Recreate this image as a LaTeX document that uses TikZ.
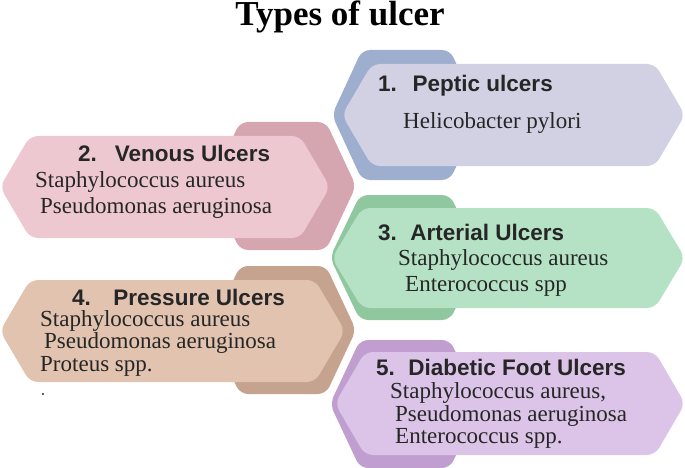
\documentclass[tikz,border=0pt]{standalone}
\usepackage{fontspec}
\setmainfont{Liberation Serif}
\newfontfamily\hd{Liberation Sans}
\begin{document}
\begin{tikzpicture}[x=1pt,y=-1pt,
  hdr/.style={anchor=west,inner sep=0pt,font=\hd\fontsize{22.5}{24}\selectfont\bfseries,text=black!85},
  bd/.style={anchor=west,inner sep=0pt,font=\fontsize{23}{25}\selectfont,text=black!85}]
\newcommand\hexa[5]{\fill[#5,rounded corners=8] ({#1},{(#3+#4)/2}) -- ({#1+30},#3) -- ({#2-30},#3) -- ({#2},{(#3+#4)/2}) -- ({#2-30},#4) -- ({#1+30},#4) -- cycle;}
\definecolor{pL}{HTML}{D2D0E3}\definecolor{pD}{HTML}{9DAECF}
\definecolor{vL}{HTML}{EDC8D0}\definecolor{vD}{HTML}{D5A5B0}
\definecolor{aL}{HTML}{B5E2C5}\definecolor{aD}{HTML}{8FC79E}
\definecolor{rL}{HTML}{E1C3B0}\definecolor{rD}{HTML}{C6A38F}
\definecolor{dL}{HTML}{DCC4E8}\definecolor{dD}{HTML}{C09FD0}
\useasboundingbox (0,0) rectangle (685,468);
\node[font=\fontsize{35}{38}\selectfont\bfseries,inner sep=0pt,anchor=base] (title) at (340,26) {Types of ulcer};
% 1
\hexa{332}{480}{50}{180}{pD}
\hexa{342}{685}{64}{166}{pL}
\node[hdr] (h1) at (378,86) {1.\hspace{0.7em}Peptic ulcers};
\node[bd] (b1) at (403,123) {Helicobacter pylori};
% 2
\hexa{210}{356}{122}{250}{vD}
\hexa{0}{330}{136}{238}{vL}
\node[hdr] (h2) at (78,153) {2.\hspace{0.8em}Venous Ulcers};
\node[bd] (b2a) at (35,182) {Staphylococcus aureus};
\node[bd] (b2b) at (40,208) {Pseudomonas aeruginosa};
% 3
\hexa{330}{480}{195}{320}{aD}
\hexa{332}{685}{208}{308}{aL}
\node[hdr] (h3) at (378,232) {3.\hspace{0.6em}Arterial Ulcers};
\node[bd] (b3a) at (398,260) {Staphylococcus aureus};
\node[bd] (b3b) at (405,286) {Enterococcus spp};
% 4
\hexa{210}{356}{266}{394}{rD}
\hexa{0}{345}{280}{382}{rL}
\node[hdr] (h4) at (72,297) {4.\hspace{1em}Pressure Ulcers};
\node[bd] (b4a) at (40,321) {Staphylococcus aureus};
\node[bd] (b4b) at (44,343) {Pseudomonas aeruginosa};
\node[bd] (b4c) at (40,366) {Proteus spp.};
\fill[black!85] (43,394) circle (1.1) coordinate (b4d);
% 5
\hexa{330}{480}{340}{468}{dD}
\hexa{335}{685}{352}{455}{dL}
\node[hdr] (h5) at (376,367) {5.\hspace{0.6em}Diabetic Foot Ulcers};
\node[bd] (b5a) at (390,393) {Staphylococcus aureus,};
\node[bd] (b5b) at (395,416) {Pseudomonas aeruginosa};
\node[bd] (b5c) at (395,438) {Enterococcus spp.};
\end{tikzpicture}
\end{document}
